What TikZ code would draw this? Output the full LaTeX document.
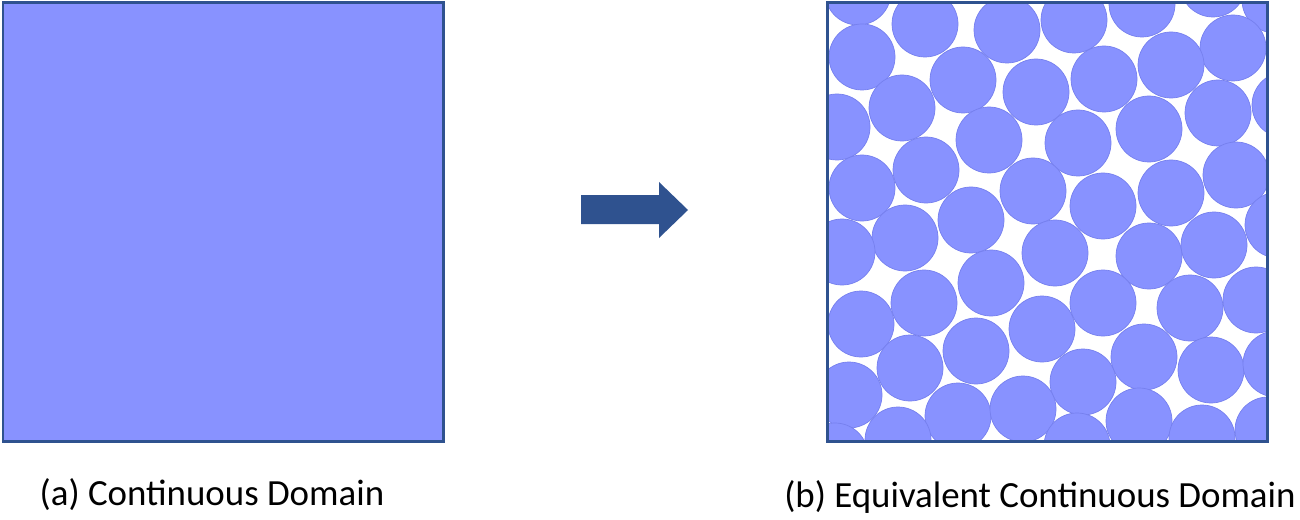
\documentclass[tikz,border=0pt]{standalone}
\usepackage{fontspec}
\setmainfont{Carlito}
\usepackage{tikz}
\usetikzlibrary{shapes,positioning}
\definecolor{domain_fill}{RGB}{136,146,255}
\definecolor{grain_edge}{RGB}{118,128,238}
\definecolor{frame_blue}{RGB}{47,82,143}
\begin{document}
\begin{tikzpicture}[x=0.02cm,y=-0.02cm]
    \tikzstyle{frame}=[draw=frame_blue,line width=0.06cm]
    \tikzstyle{grain}=[fill=domain_fill,draw=grain_edge,line width=0.4pt]
    \tikzstyle{caption}=[anchor=base,text=black,font=\fontsize{21}{24}\selectfont]
    \useasboundingbox (0,0) rectangle (1300,520);

    % (a) continuous domain
    \draw[frame,fill=domain_fill] (3,2.5) rectangle (443,441);

    % arrow
    \fill[frame_blue] (581,195) -- (659,195) -- (659,182) -- (688,210)
        -- (659,238) -- (659,224) -- (581,224) -- cycle;

    % (b) equivalent domain of packed grains
    \begin{scope}
      \clip (827,2.5) rectangle (1267,441);
      \foreach \cx/\cy in {858/-8,925/24,1007/30,1074/20,1142/4,1213/-16,1275/0,
          862/57,1233/48,963/80,1171/65,1104/79,1036/92,902/108,837/127,
          989/140,1078/143,1149/129,1218/113,1285/105,
          862/188,926/170,1033/191,1103/206,1171/193,1236/175,971/220,905/238,842/252,
          1055/253,1149/256,1214/245,1278/225,
          991/283,924/303,861/324,1042/329,1103/303,1190/308,1256/300,
          976/351,910/368,849/395,1144/357,1083/382,1211/370,1276/364,
          958/416,1023/409,898/440,835/456,1077/446,1139/421,1202/438,1268/430}
        \draw[grain] (\cx,\cy) circle[radius=33];
    \end{scope}
    \draw[frame] (827,2.5) rectangle (1267,441);

    \node[caption] (capa) at (212,505) {(a) Continuous Domain};
    \node[caption] (capb) at (1040,507) {(b) Equivalent Continuous Domain};
\end{tikzpicture}
\end{document}
